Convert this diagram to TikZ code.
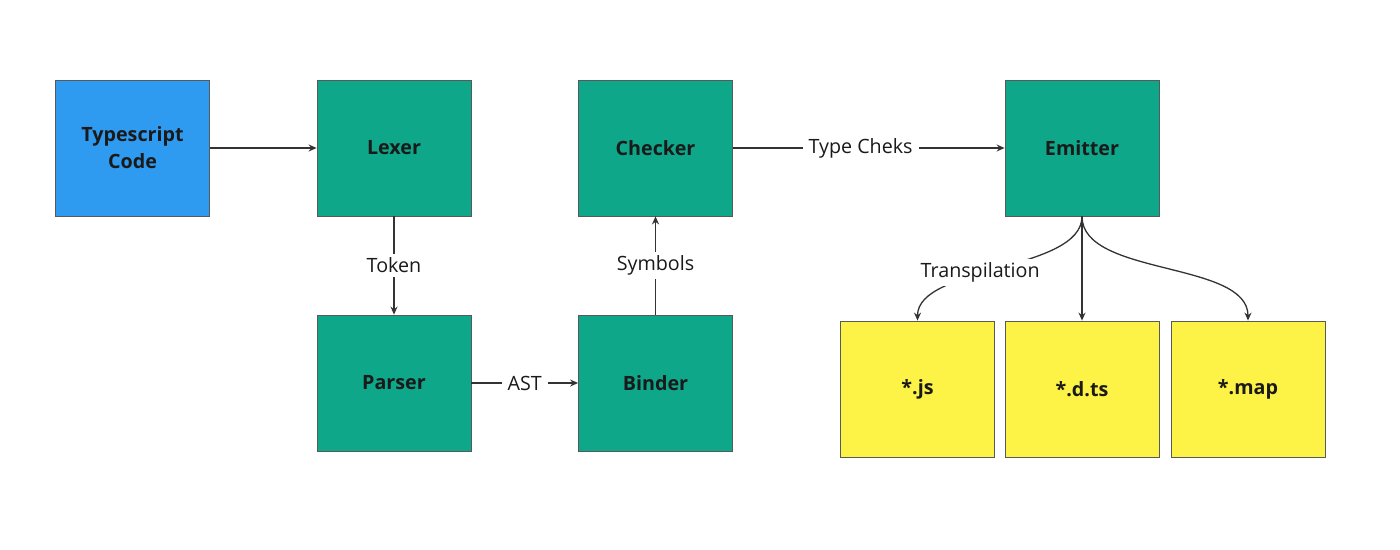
\documentclass[tikz,border=0pt]{standalone}
\usepackage{fontspec}
\setmainfont{Open Sans}
\usetikzlibrary{arrows.meta}
\definecolor{teal1}{HTML}{0EA789}
\definecolor{blue1}{HTML}{2F9BF0}
\definecolor{yel1}{HTML}{FDF246}
\definecolor{ink}{HTML}{1A1A1A}
\definecolor{ln}{HTML}{333333}
\tikzset{
  box/.style={draw=black!65, line width=0.8pt, minimum width=154pt, minimum height=136pt, inner sep=0pt, align=center, font=\fontsize{19.7}{27}\selectfont\bfseries, text=ink},
  tealbox/.style={box, fill=teal1},
  bluebox/.style={box, fill=blue1},
  yelbox/.style={box, fill=yel1},
  conn/.style={draw=ln, line width=1.3pt, -{Stealth[length=8pt,width=7pt]}},
  lbl/.style={fill=white, inner xsep=6pt, inner ysep=4pt, font=\fontsize{19.7}{24}\selectfont, text=ink}
}
\begin{document}
\begin{tikzpicture}[x=1pt,y=-1pt]
\useasboundingbox (0,0) rectangle (1400,549);
\node[bluebox] (ts) at (132.5,148) {Typescript\\Code};
\node[tealbox] (lexer) at (394,148) {Lexer};
\node[tealbox] (checker) at (655.5,148) {Checker};
\node[tealbox] (emitter) at (1082,148) {Emitter};
\node[tealbox] (parser) at (394,383) {Parser};
\node[tealbox] (binder) at (655.5,383) {Binder};
\node[yelbox] (js) at (917.5,389) {*.js};
\node[yelbox] (dts) at (1082,389) {*.d.ts};
\node[yelbox] (map) at (1248,389) {*.map};

\draw[conn] (ts) -- (lexer);
\draw[conn] (lexer) -- node[lbl]{Token} (parser);
\draw[conn] (parser) -- node[lbl]{AST} (binder);
\draw[conn] (binder) -- node[lbl]{Symbols} (checker);
\draw[conn] (checker) -- node[lbl, pos=0.47]{Type Cheks} (emitter);
\draw[conn] (emitter.south) .. controls +(0,55) and +(0,-55) .. (js.north) node[lbl, pos=0.58, yshift=2pt]{Transpilation};
\draw[conn] (emitter.south) -- (dts.north);
\draw[conn] (emitter.south) .. controls +(0,60) and +(0,-60) .. (map.north);
\end{tikzpicture}
\end{document}
